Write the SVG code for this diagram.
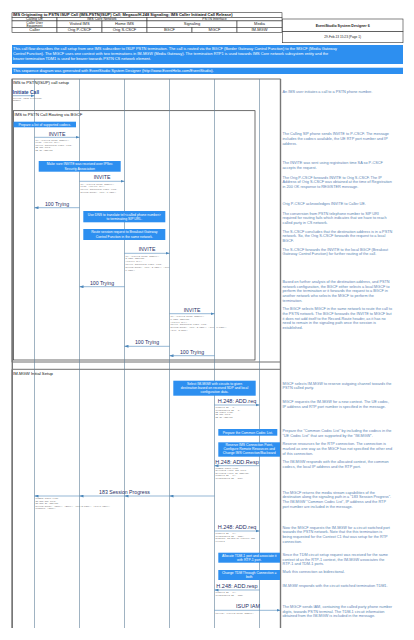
<svg xmlns="http://www.w3.org/2000/svg" width="414" height="640" viewBox="0 0 414 640">
<style>
text{font-family:"Liberation Sans",Arial,sans-serif}
.cell{fill:#fff;stroke:#333;stroke-width:0.6}
.hd{font-size:4px;fill:#222;text-anchor:middle}
.life{stroke:#5f7f99;stroke-width:0.6}
.msg{stroke:#4d88bb;stroke-width:0.6;fill:none;marker-end:url(#ah)}
.lbl{font-size:5.2px;fill:#1f2f66;text-anchor:middle}
.par{font-family:"Liberation Mono","Courier New",monospace;font-size:2.2px;fill:#666}
.act{fill:#2d8ff0}
.at{font-size:3.4px;fill:#fff;text-anchor:middle}
.cmt{font-size:3.8px;fill:#5a84b4}
.frame{fill:none;stroke:#333;stroke-width:0.7}
.flbl{font-size:4.2px;fill:#111}
.desc{font-size:3.9px;fill:#fff}
</style>
<defs>
<marker id="ah" markerWidth="4" markerHeight="3" refX="4" refY="1.5" orient="auto" markerUnits="userSpaceOnUse"><path d="M0,0 L4,1.5 L0,3 z" fill="#4d88bb"/></marker>
</defs>
<rect width="414" height="640" fill="#fff"/>

<g id="header">
<rect class="cell" x="12" y="12.7" width="270" height="4.6"/>
<text x="13" y="16.3" style="font-size:4px;font-weight:bold;fill:#111">IMS Originating to PSTN ISUP Call (IMS-PSTN(ISUP) Call; Megaco/H.248 Signaling; IMS Caller Initiated Call Release)</text>
<rect class="cell" x="12" y="17.3" width="45" height="3.6"/>
<rect class="cell" x="57" y="17.3" width="90" height="3.6"/>
<rect class="cell" x="147" y="17.3" width="135" height="3.6"/>
<text class="hd" x="34.5" y="20.3" style="font-size:3.6px">Calling UE</text>
<text class="hd" x="102" y="20.3" style="font-size:3.6px">IMS Core Network</text>
<text class="hd" x="214.5" y="20.3" style="font-size:3.6px">PSTN Interface</text>
<rect class="cell" x="12" y="20.9" width="45" height="6.4"/>
<rect class="cell" x="57" y="20.9" width="45" height="6.4"/>
<rect class="cell" x="102" y="20.9" width="45" height="6.4"/>
<rect class="cell" x="147" y="20.9" width="90" height="6.4"/>
<rect class="cell" x="237" y="20.9" width="45" height="6.4"/>
<text class="hd" x="34.5" y="23.9" style="font-size:3.3px">Caller User</text>
<text class="hd" x="34.5" y="26.9" style="font-size:3.3px">Equipment</text>
<text class="hd" x="79.5" y="25.4">Visited IMS</text>
<text class="hd" x="124.5" y="25.4">Home IMS</text>
<text class="hd" x="192" y="25.4">Signaling</text>
<text class="hd" x="259.5" y="25.4">Media</text>
<rect class="cell" x="12" y="27.3" width="45" height="5"/>
<rect class="cell" x="57" y="27.3" width="45" height="5"/>
<rect class="cell" x="102" y="27.3" width="45" height="5"/>
<rect class="cell" x="147" y="27.3" width="45" height="5"/>
<rect class="cell" x="192" y="27.3" width="45" height="5"/>
<rect class="cell" x="237" y="27.3" width="45" height="5"/>
<text class="hd" x="34.5" y="31.2">Caller</text>
<text class="hd" x="79.5" y="31.2">Orig P-CSCF</text>
<text class="hd" x="124.5" y="31.2">Orig S-CSCF</text>
<text class="hd" x="169.5" y="31.2">BGCF</text>
<text class="hd" x="214.5" y="31.2">MGCF</text>
<text class="hd" x="259.5" y="31.2">IM-MGW</text>
<rect class="cell" x="282.5" y="19" width="120.5" height="12.7"/>
<rect class="cell" x="282.5" y="31.7" width="120.5" height="11"/>
<text x="342.7" y="26.6" style="font-size:3.6px;font-weight:bold;fill:#222;text-anchor:middle">EventStudio System Designer 6</text>
<text x="342.7" y="38.3" style="font-size:3.2px;fill:#222;text-anchor:middle">29-Feb-13 15:23 (Page 1)</text>
</g>

<g id="description">
<rect class="act" x="12" y="45" width="391" height="19"/>
<text class="desc" x="13" y="50.4">This call flow describes the call setup from one IMS subscriber to ISUP PSTN termination. The call is routed via the BGCF (Border Gateway Control Function) to the MGCF (Media Gateway</text>
<text class="desc" x="13" y="55.4">Control Function). The MGCF uses one context with two terminations in IM-MGW (Media Gateway). The termination RTP1 is used  towards IMS Core network subsystem entity and the</text>
<text class="desc" x="13" y="60.4">bearer termination TDM1 is used for bearer towards  PSTN CS network element.</text>
<rect class="act" x="12" y="67.7" width="391" height="6.3"/>
<text class="desc" x="13" y="72.3">This sequence diagram was generated with EventStudio System Designer (http://www.EventHelix.com/EventStudio).</text>
</g>

<g id="frames">
<rect class="frame" x="12" y="79" width="268.5" height="283"/>
<text class="flbl" x="13" y="83.8">IMS to PSTN(ISUP) call setup</text>
<rect class="frame" x="13.5" y="110.7" width="241.5" height="249.3"/>
<text class="flbl" x="14.5" y="115.5">IMS to PSTN Call Routing via BGCF</text>
<path class="frame" d="M12,628 V369.3 H280.5 V628"/>
<text class="flbl" x="13" y="374.8">IM-MGW Initial Setup</text>
</g>

<g id="lifelines">
<line class="life" x1="34.5" y1="79" x2="34.5" y2="628"/>
<line class="life" x1="79.5" y1="79" x2="79.5" y2="628"/>
<line class="life" x1="124.5" y1="79" x2="124.5" y2="628"/>
<line class="life" x1="169.5" y1="79" x2="169.5" y2="628"/>
<line class="life" x1="214.5" y1="79" x2="214.5" y2="628"/>
<line class="life" x1="259.5" y1="79" x2="259.5" y2="628"/>
<line x1="12.3" y1="79" x2="12.3" y2="628" stroke="#777" stroke-width="1.4"/>
<line x1="280.5" y1="79" x2="280.5" y2="628" stroke="#777" stroke-width="1.4"/>
</g>

<g id="actions">
<g id="act1"><rect class="act" x="13.5" y="121.7" width="62.5" height="5.6"/><text class="at" x="44.7" y="125.7">Prepare a list of supported codecs.</text></g>
<g id="act2"><rect class="act" x="38.7" y="161" width="82" height="10.7"/><text class="at" x="79.7" y="165.3">Make sure INVITE was received over IPSec</text><text class="at" x="79.7" y="169.5">Security Association</text></g>
<g id="act3"><rect class="act" x="83.3" y="211" width="82" height="11.3"/><text class="at" x="124.3" y="215.6">Use DNS to translate tel:&lt;called phone number&gt;</text><text class="at" x="124.3" y="219.9">to terminating SIP URL.</text></g>
<g id="act4"><rect class="act" x="83.3" y="229" width="82" height="11"/><text class="at" x="124.3" y="233.4">Route session request to Breakout Gateway</text><text class="at" x="124.3" y="237.7">Control Function in the same network.</text></g>
<g id="act5"><rect class="act" x="173.3" y="380.7" width="82.4" height="15"/><text class="at" x="214.5" y="384.7">Select IM-MGW with circuits to given</text><text class="at" x="214.5" y="388.7">destination based on received SDP and local</text><text class="at" x="214.5" y="392.7">configuration data.</text></g>
<g id="act6"><rect class="act" x="218.3" y="429" width="59" height="6.7"/><text class="at" x="247.8" y="433.5">Prepare the Common Codec List.</text></g>
<g id="act7"><rect class="act" x="218.3" y="442.3" width="61.7" height="14.4"/><text class="at" x="249.2" y="446.1">Reserve IMS Connection Point,</text><text class="at" x="249.2" y="450.1">Configure Remote Resources and</text><text class="at" x="249.2" y="454.1">Change IMS Connection/Backward</text></g>
<g id="act8"><rect class="act" x="218.3" y="552.7" width="61.7" height="10"/><text class="at" x="249.2" y="556.8">Allocate TDM-1 port and associate it</text><text class="at" x="249.2" y="560.9">with RTP-1 port.</text></g>
<g id="act9"><rect class="act" x="218.3" y="570" width="61.7" height="10"/><text class="at" x="249.2" y="574.1">Change TDM Through Connection =</text><text class="at" x="249.2" y="578.2">both</text></g>
</g>

<g id="connectors">
<text x="12.5" y="93.5" style="font-size:5px;font-weight:bold;fill:#2b4a8e">Initiate Call</text>
<line class="msg" x1="12.5" y1="95.7" x2="34.5" y2="95.7"/>
<text class="par" x="13" y="98.9">Called: PSTN Telephone</text><text class="par" x="13" y="101.4">Number</text>

<text class="lbl" x="57" y="135.8">INVITE</text>
<line class="msg" x1="34.5" y1="137.3" x2="79.5" y2="137.3"/>
<text class="par" x="35.5" y="140.6">To: &lt;called phone number&gt;,</text><text class="par" x="35.5" y="143.2">From: &lt;caller uri&gt;,</text><text class="par" x="35.5" y="145.8">Caller supported codec list,</text><text class="par" x="35.5" y="148.4">UE RTP Port,</text><text class="par" x="35.5" y="151">UE IP Address</text>

<text class="lbl" x="102" y="179">INVITE</text>
<line class="msg" x1="79.5" y1="181.3" x2="124.5" y2="181.3"/>
<text class="par" x="80.5" y="184.6">To: &lt;called phone number&gt;,</text><text class="par" x="80.5" y="187.3">From: &lt;caller uri&gt;,</text><text class="par" x="80.5" y="190">Caller supported codec list,</text><text class="par" x="80.5" y="192.7">Record-Route: &lt;sip: P-CSCF&gt;</text>

<text class="lbl" x="57" y="205.8">100 Trying</text>
<line class="msg" x1="79.5" y1="207.7" x2="34.5" y2="207.7"/>

<text class="lbl" x="147" y="251.2">INVITE</text>
<line class="msg" x1="124.5" y1="253.3" x2="169.5" y2="253.3"/>
<text class="par" x="125.5" y="256.6">To: &lt;called phone number&gt;,</text><text class="par" x="125.5" y="259.4">S-CSCF address,</text><text class="par" x="125.5" y="262.2">&lt;caller uri&gt;,</text><text class="par" x="125.5" y="265">Caller supported codec list,</text><text class="par" x="125.5" y="267.8">Record-Route: &lt;sip: S-CSCF&gt;, &lt;sip:</text><text class="par" x="125.5" y="270.6">P-CSCF&gt;</text>

<text class="lbl" x="102" y="284.6">100 Trying</text>
<line class="msg" x1="124.5" y1="286.7" x2="79.5" y2="286.7"/>

<text class="lbl" x="192" y="311.6">INVITE</text>
<line class="msg" x1="169.5" y1="313.7" x2="214.5" y2="313.7"/>
<text class="par" x="170.5" y="317">To: &lt;called phone number&gt;,</text><text class="par" x="170.5" y="319.8">P-CSCF address,</text><text class="par" x="170.5" y="322.6">&lt;caller uri&gt;,</text><text class="par" x="170.5" y="325.4">Caller supported codec list,</text><text class="par" x="170.5" y="328.2">Record-Route: &lt;sip: S-CSCF&gt;, &lt;sip: P-CSCF&gt;,</text><text class="par" x="170.5" y="331">&lt;sip: S-CSCF&gt;</text>

<text class="lbl" x="147" y="344.3">100 Trying</text>
<line class="msg" x1="169.5" y1="346.3" x2="124.5" y2="346.3"/>

<text class="lbl" x="192" y="353.8">100 Trying</text>
<line class="msg" x1="214.5" y1="355.7" x2="169.5" y2="355.7"/>

<text class="lbl" x="237" y="403.2" style="font-size:5.5px">H.248: ADD.req</text>
<line class="msg" x1="214.5" y1="405" x2="259.5" y2="405"/>
<text class="par" x="215.5" y="408.2">Context ID = ?,</text><text class="par" x="215.5" y="410.6">Termination ID = ?,</text><text class="par" x="215.5" y="413">UE Codec List,</text><text class="par" x="215.5" y="415.4">UE RTP Port,</text><text class="par" x="215.5" y="417.8">UE IP Address</text>

<text class="lbl" x="237" y="463.8" style="font-size:5.5px">H.248: ADD.Resp</text>
<line class="msg" x1="259.5" y1="465.7" x2="214.5" y2="465.7"/>
<text class="par" x="215.5" y="468.9">Common Codec List,</text><text class="par" x="215.5" y="471.3">Selected local RTP Port,</text><text class="par" x="215.5" y="473.7">Selected local IP address,</text><text class="par" x="215.5" y="476.1">Context ID = C1,</text><text class="par" x="215.5" y="478.5">Termination ID = RTP1</text>

<text class="lbl" x="124.5" y="494">183 Session Progress</text>
<line class="msg" x1="214.5" y1="496" x2="169.5" y2="496"/>
<line class="msg" x1="169.5" y1="496" x2="124.5" y2="496"/>
<line class="msg" x1="124.5" y1="496" x2="79.5" y2="496"/>
<line class="msg" x1="79.5" y1="496" x2="34.5" y2="496"/>
<text class="par" x="35.5" y="499.3">Common Codec List,</text><text class="par" x="35.5" y="501.8">IM-MGW RTP Port,</text><text class="par" x="35.5" y="504.3">IM-MGW IP Address,</text><text class="par" x="35.5" y="506.8">Record-Route: &lt;MGCF&gt;, &lt;BGCF&gt;, &lt;sip:S-CSCF&gt;, &lt;sip:P-CSCF&gt;,</text><text class="par" x="35.5" y="509.3">Contact: &lt;MGCF&gt;</text>

<text class="lbl" x="237" y="529" style="font-size:5.5px">H.248: ADD.req</text>
<line class="msg" x1="214.5" y1="531" x2="259.5" y2="531"/>
<text class="par" x="215.5" y="534.3">Context ID = C1,</text><text class="par" x="215.5" y="536.8">Termination ID = TDM1,</text><text class="par" x="215.5" y="539.3">Request: IM-MGW to reserve TDM</text><text class="par" x="215.5" y="541.8">circuit</text>

<text class="lbl" x="237" y="588" style="font-size:5.5px">H.248: ADD.resp</text>
<line class="msg" x1="259.5" y1="590" x2="214.5" y2="590"/>
<text class="par" x="215.5" y="593.2">Context ID = C1,</text><text class="par" x="215.5" y="595.7">Termination ID = TDM1</text>

<text class="lbl" x="248" y="608.4" style="font-size:5.5px">ISUP IAM</text>
<line class="msg" x1="214.5" y1="610.3" x2="280.5" y2="610.3"/>
<text class="par" x="215.5" y="613.6">Called: &lt;called phone number&gt;</text>
</g>

<g id="comments">
<text class="cmt" x="282.5" y="93">An IMS user initiates a call to a PSTN phone number.</text>
<text class="cmt" x="282.5" y="135.3">The Calling SIP phone sends INVITE to P-CSCF. The message</text>
<text class="cmt" x="282.5" y="140">includes the codecs available, the UE RTP port number and IP</text>
<text class="cmt" x="282.5" y="144.7">address.</text>
<text class="cmt" x="282.5" y="163.8">The INVITE was sent using registration time SA so P-CSCF</text>
<text class="cmt" x="282.5" y="168.5">accepts the request.</text>
<text class="cmt" x="282.5" y="178.6">The Orig P-CSCF forwards INVITE to Orig S-CSCF. The IP</text>
<text class="cmt" x="282.5" y="183.3">Address of Orig S-CSCF was obtained at the time of Registration</text>
<text class="cmt" x="282.5" y="188">in 200 OK response to REGISTER message.</text>
<text class="cmt" x="282.5" y="205">Orig P-CSCF acknowledges INVITE to Caller UE.</text>
<text class="cmt" x="282.5" y="214.6">The conversion from PSTN telephone number to SIP URI</text>
<text class="cmt" x="282.5" y="219.3">required for routing fails which indicates that we have to reach</text>
<text class="cmt" x="282.5" y="224">called party in CS network.</text>
<text class="cmt" x="282.5" y="232.6">The S-CSCF concludes that the destination address is in a PSTN</text>
<text class="cmt" x="282.5" y="237.3">network. So, the Orig S-CSCF forwards the request to a local</text>
<text class="cmt" x="282.5" y="242">BGCF.</text>
<text class="cmt" x="282.5" y="250.6">The S-CSCF forwards the INVITE to the local BGCF (Breakout</text>
<text class="cmt" x="282.5" y="255.3">Gateway Control Function) for further routing of the call.</text>
<text class="cmt" x="282.5" y="283">Based on further analysis of the destination address, and PSTN</text>
<text class="cmt" x="282.5" y="287.7">network configuration, the BGCF either selects a local MGCF to</text>
<text class="cmt" x="282.5" y="292.4">perform the termination or it forwards the request to a BGCF in</text>
<text class="cmt" x="282.5" y="297.1">another network who selects the MGCF to perform the</text>
<text class="cmt" x="282.5" y="301.8">termination.</text>
<text class="cmt" x="282.5" y="310.3">The BGCF selects MGCF in the same network to route the call to</text>
<text class="cmt" x="282.5" y="315">the PSTN network. The BGCF forwards the INVITE to MGCF but</text>
<text class="cmt" x="282.5" y="319.7">it does not add itself to the Record-Route header, as it has no</text>
<text class="cmt" x="282.5" y="324.4">need to remain in the signaling path once the session is</text>
<text class="cmt" x="282.5" y="329.1">established.</text>
<text class="cmt" x="282.5" y="384.6">MGCF selects IM-MGW to reserve outgoing channel towards the</text>
<text class="cmt" x="282.5" y="389.3">PSTN called party.</text>
<text class="cmt" x="282.5" y="403">MGCF requests the IM-MGW for a new context. The UE codec,</text>
<text class="cmt" x="282.5" y="407.7">IP address and RTP port number is specified in the message.</text>
<text class="cmt" x="282.5" y="432.3">Prepare the "Common Codec List" by including the codecs in the</text>
<text class="cmt" x="282.5" y="437">"UE Codec List" that are supported by the "IM-MGW".</text>
<text class="cmt" x="282.5" y="445.3">Reserve resources for the RTP connection. The connection is</text>
<text class="cmt" x="282.5" y="450">marked as one way as the MGCF has not specified the other end</text>
<text class="cmt" x="282.5" y="454.7">of this connection.</text>
<text class="cmt" x="282.5" y="463">The IM-MGW responds with the allocated context, the common</text>
<text class="cmt" x="282.5" y="467.7">codecs, the local IP address and the RTP port.</text>
<text class="cmt" x="282.5" y="493.6">The MGCF returns the media stream capabilities of the</text>
<text class="cmt" x="282.5" y="498.3">destination along the signaling path in a "183 Session Progress".</text>
<text class="cmt" x="282.5" y="503">The IM-MGW "Common Codec List", IP address and the RTP</text>
<text class="cmt" x="282.5" y="507.7">port number are included in the message.</text>
<text class="cmt" x="282.5" y="528.6">Now the MGCF requests the IM-MGW for a circuit switched port</text>
<text class="cmt" x="282.5" y="533.3">towards the PSTN network. Note that the this termination is</text>
<text class="cmt" x="282.5" y="538">being requested for the Context C1 that was setup for the RTP</text>
<text class="cmt" x="282.5" y="542.7">connection.</text>
<text class="cmt" x="282.5" y="556">Since the TDM circuit setup request was received for the same</text>
<text class="cmt" x="282.5" y="560.7">context id as the RTP-1 context, the IM-MGW associates the</text>
<text class="cmt" x="282.5" y="565.4">RTP-1 and TDM-1 ports.</text>
<text class="cmt" x="282.5" y="573.3">Mark this connection as bidirectional.</text>
<text class="cmt" x="282.5" y="587.3">IM-MGW responds with the circuit switched termination TDM1.</text>
<text class="cmt" x="282.5" y="608">The MGCF sends IAM, containing the called party phone number</text>
<text class="cmt" x="282.5" y="612.7">digits, towards PSTN terminal. The TDM-1 circuit information</text>
<text class="cmt" x="282.5" y="617.4">obtained from the IM-MGW is included in the message.</text>
</g>
</svg>
